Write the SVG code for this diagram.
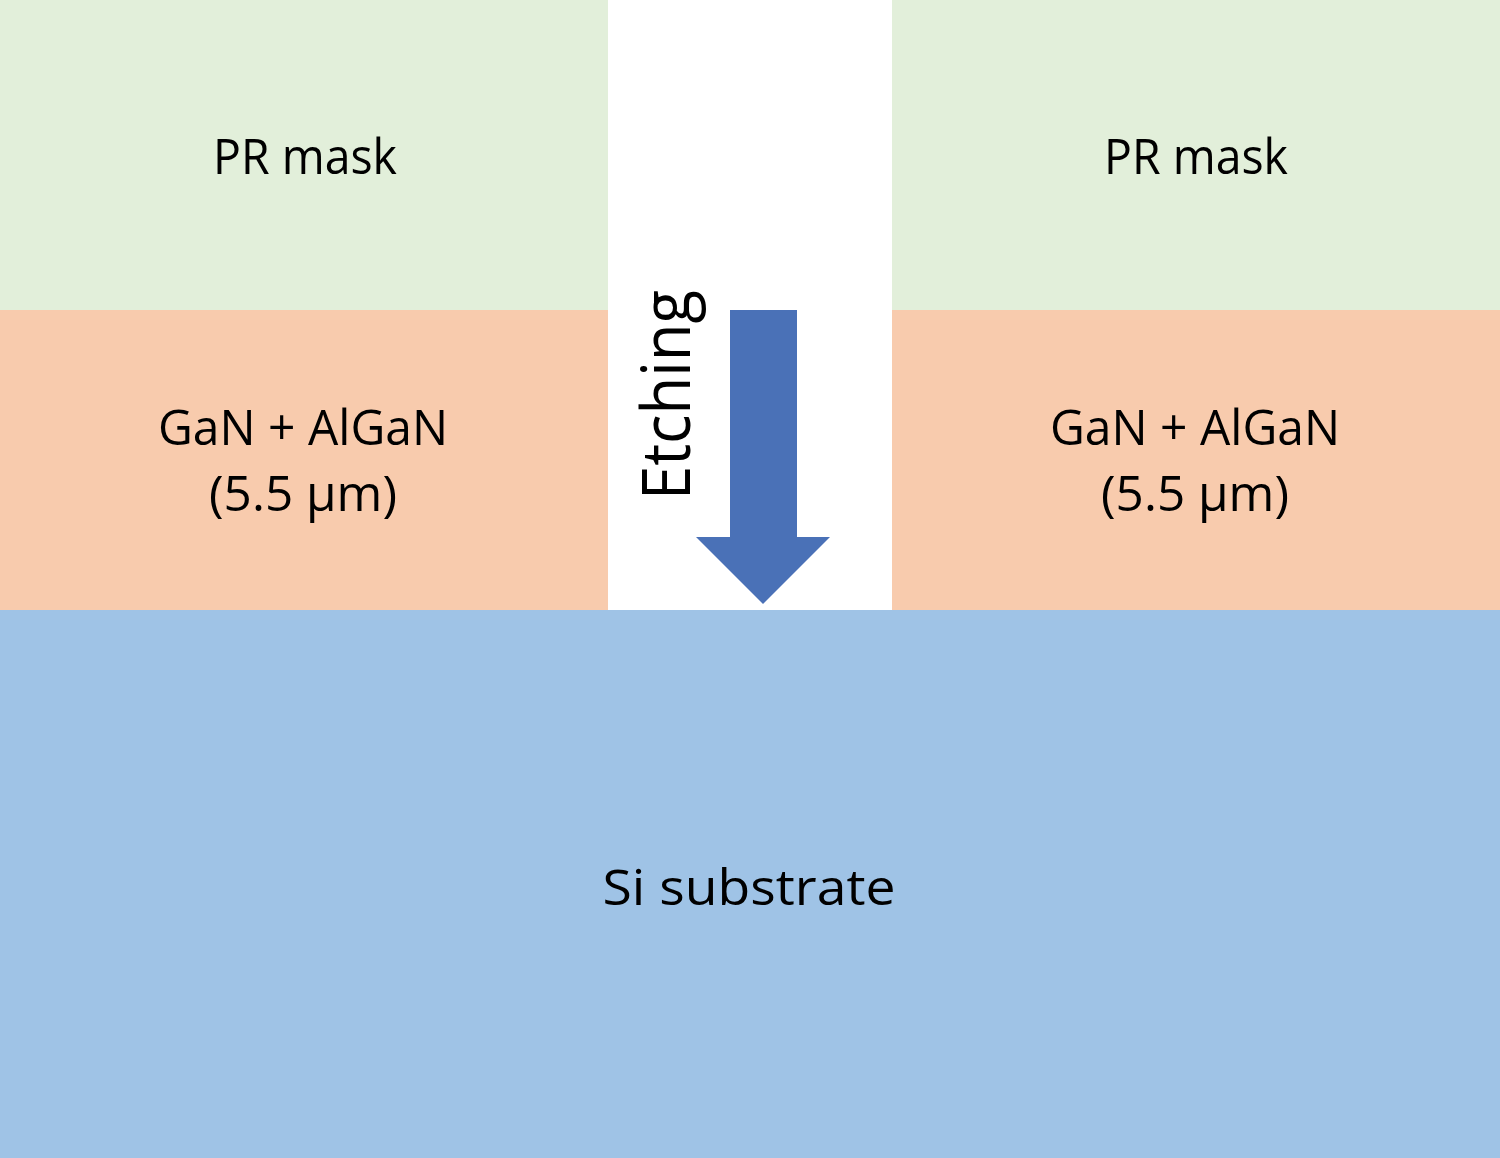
<svg xmlns="http://www.w3.org/2000/svg" width="1500" height="1158" viewBox="0 0 1500 1158">
<style>
.t{font-family:"Open Sans","Liberation Sans",sans-serif;fill:#000;text-anchor:middle}
.m{fill:#E2EFDA}.g{fill:#F8CBAD}.s{fill:#9FC3E6}
</style>
<rect width="1500" height="1158" fill="#fff"/>
<g id="si-substrate"><rect class="s" x="0" y="610" width="1500" height="548"/>
<text class="t" x="749" y="905" font-size="50" textLength="293" lengthAdjust="spacingAndGlyphs">Si substrate</text></g>
<g id="mask-left"><rect class="m" x="0" y="0" width="608" height="310"/>
<text class="t" x="305" y="174" font-size="50" textLength="184" lengthAdjust="spacingAndGlyphs">PR mask</text></g>
<g id="mask-right"><rect class="m" x="892" y="0" width="608" height="310"/>
<text class="t" x="1196" y="174" font-size="50" textLength="184" lengthAdjust="spacingAndGlyphs">PR mask</text></g>
<g id="gan-left"><rect class="g" x="0" y="310" width="608" height="300"/>
<text class="t" x="303" y="445" font-size="50" textLength="290" lengthAdjust="spacingAndGlyphs">GaN + AlGaN</text>
<text class="t" x="303" y="511" font-size="50" textLength="188" lengthAdjust="spacingAndGlyphs">(5.5 µm)</text></g>
<g id="gan-right"><rect class="g" x="892" y="310" width="608" height="300"/>
<text class="t" x="1195" y="445" font-size="50" textLength="290" lengthAdjust="spacingAndGlyphs">GaN + AlGaN</text>
<text class="t" x="1195" y="511" font-size="50" textLength="188" lengthAdjust="spacingAndGlyphs">(5.5 µm)</text></g>
<g id="etching"><text class="t" transform="translate(690,395) rotate(-90)" font-size="68" textLength="210" lengthAdjust="spacingAndGlyphs">Etching</text></g>
<g id="connectors"><path d="M730 310H797V537H830L763 604L696 537H730Z" fill="#4A71B7"/></g>
</svg>
